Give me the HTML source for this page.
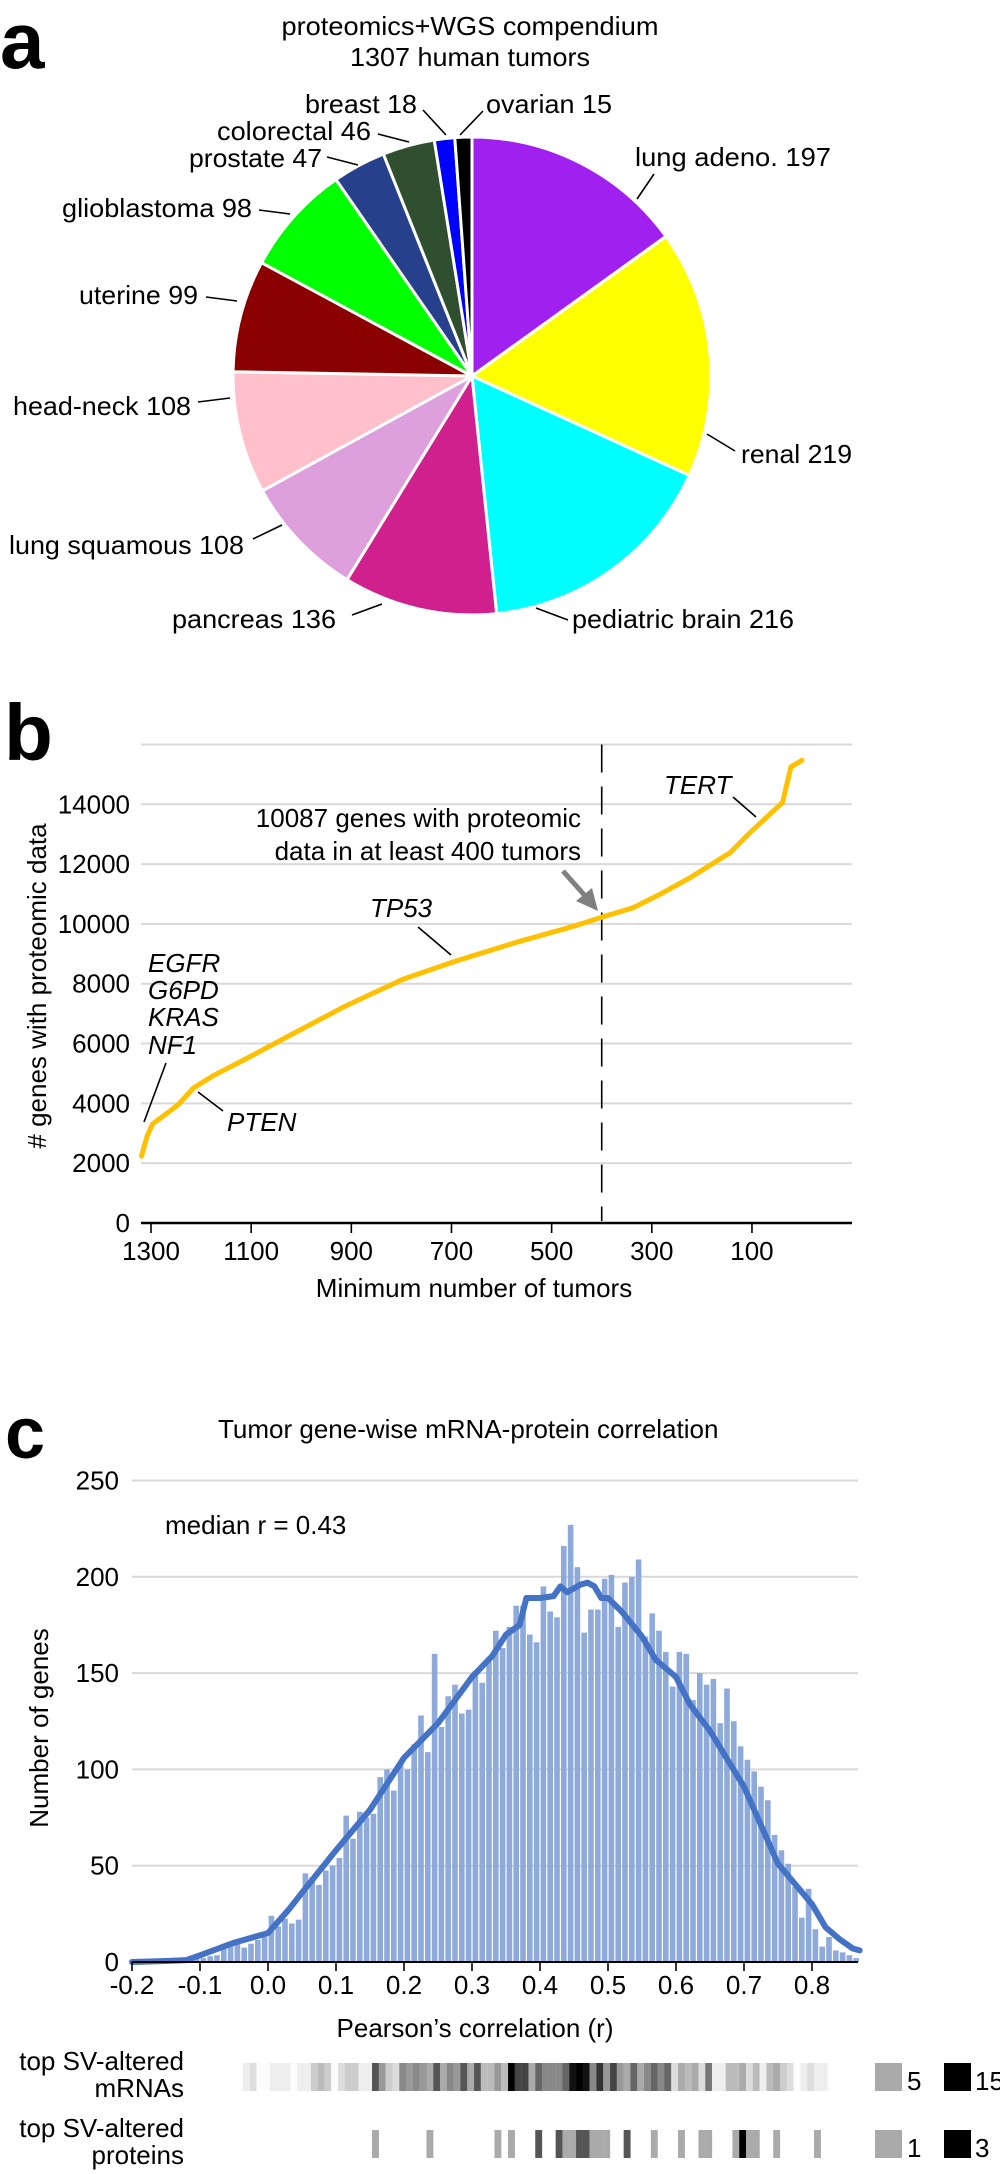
<!DOCTYPE html>
<html><head><meta charset="utf-8"><style>
html,body{margin:0;padding:0;background:#fff;}
svg{display:block;font-family:"Liberation Sans",Arial,sans-serif;}
text{fill:#000;}
</style></head><body>
<svg id="fig" width="1000" height="2174" viewBox="0 0 1000 2174" xmlns="http://www.w3.org/2000/svg">
<!-- Panel a -->
<g id="panelA">
<text x="0" y="68" font-size="80" font-weight="bold">a</text>
<text x="470" y="35" font-size="26" text-anchor="middle" textLength="377" lengthAdjust="spacingAndGlyphs">proteomics+WGS compendium</text>
<text x="470" y="66" font-size="26" text-anchor="middle" textLength="240" lengthAdjust="spacingAndGlyphs">1307 human tumors</text>
<g id="slices"></g>
<g stroke="#000" stroke-width="1.6">
<line x1="423" y1="110" x2="446" y2="135"/><line x1="483" y1="111" x2="460" y2="135"/>
<line x1="378" y1="134" x2="409" y2="142"/><line x1="327" y1="157" x2="358" y2="165"/>
<line x1="654" y1="174" x2="637" y2="199"/><line x1="259" y1="210" x2="290" y2="214"/>
<line x1="206" y1="297" x2="237" y2="301"/><line x1="198" y1="402" x2="230" y2="398"/>
<line x1="707" y1="434" x2="735" y2="451"/><line x1="253" y1="539" x2="282" y2="525"/>
<line x1="352" y1="615" x2="382" y2="604"/><line x1="536" y1="608" x2="568" y2="620"/>
</g>
<g font-size="26">
<text x="305" y="113" textLength="112" lengthAdjust="spacingAndGlyphs">breast 18</text>
<text x="486" y="113" textLength="126" lengthAdjust="spacingAndGlyphs">ovarian 15</text>
<text x="217" y="140" textLength="154" lengthAdjust="spacingAndGlyphs">colorectal 46</text>
<text x="189" y="167" textLength="133" lengthAdjust="spacingAndGlyphs">prostate 47</text>
<text x="635" y="166" textLength="196" lengthAdjust="spacingAndGlyphs">lung adeno. 197</text>
<text x="62" y="217" textLength="190" lengthAdjust="spacingAndGlyphs">glioblastoma 98</text>
<text x="79" y="304" textLength="119" lengthAdjust="spacingAndGlyphs">uterine 99</text>
<text x="13" y="415" textLength="178" lengthAdjust="spacingAndGlyphs">head-neck 108</text>
<text x="741" y="463" textLength="111" lengthAdjust="spacingAndGlyphs">renal 219</text>
<text x="9" y="554" textLength="235" lengthAdjust="spacingAndGlyphs">lung squamous 108</text>
<text x="172" y="628" textLength="164" lengthAdjust="spacingAndGlyphs">pancreas 136</text>
<text x="572" y="628" textLength="222" lengthAdjust="spacingAndGlyphs">pediatric brain 216</text>
</g>
</g>

<!-- Panel b -->
<g id="panelB">
<text x="4" y="760" font-size="80" font-weight="bold">b</text>
<g id="bGrid"></g>
<g id="bYTicks" font-size="26" text-anchor="end"></g>
<g id="bXTicks" font-size="26" text-anchor="middle"></g>
<line id="bDash" stroke="#000" stroke-width="1.6" stroke-dasharray="28,14"/>
<path id="bCurve" fill="none" stroke="#ffc000" stroke-width="5" stroke-linejoin="round" stroke-linecap="round"/>
<text transform="translate(46,986) rotate(-90)" font-size="26" text-anchor="middle"># genes with proteomic data</text>
<text x="474" y="1297" font-size="26" text-anchor="middle">Minimum number of tumors</text>
<g font-size="26" font-style="italic">
<text x="148" y="972">EGFR</text>
<text x="148" y="999">G6PD</text>
<text x="148" y="1026">KRAS</text>
<text x="148" y="1054">NF1</text>
<text x="227" y="1131">PTEN</text>
<text x="370" y="917">TP53</text>
<text x="664" y="794">TERT</text>
</g>
<g stroke="#000" stroke-width="1.6">
<line x1="166" y1="1063" x2="144" y2="1122"/>
<line x1="198" y1="1092" x2="223" y2="1111"/>
<line x1="418" y1="927" x2="451" y2="955"/>
<line x1="733" y1="797" x2="756" y2="817"/>
</g>
<text x="581" y="827" font-size="26" text-anchor="end">10087 genes with proteomic</text>
<text x="581" y="860" font-size="26" text-anchor="end">data in at least 400 tumors</text>
<g>
<line x1="563" y1="871" x2="587" y2="898" stroke="#808080" stroke-width="5"/>
<polygon points="598,911 576,901 592,888" fill="#808080"/>
</g>
</g>

<!-- Panel c -->
<g id="panelC">
<text x="5" y="1458" font-size="72" font-weight="bold">c</text>
<text x="218" y="1438" font-size="26">Tumor gene-wise mRNA-protein correlation</text>
<g id="cGrid"></g>
<g id="cYTicks" font-size="26" text-anchor="end"></g>
<g id="cBars" fill="#8eaadb"></g>
<path id="cLine" fill="none" stroke="#4472c4" stroke-width="6" stroke-linejoin="round" stroke-linecap="round"/>
<g id="cXTicks" font-size="26" text-anchor="middle"></g>
<text x="165" y="1534" font-size="26">median r = 0.43</text>
<text transform="translate(48,1728) rotate(-90)" font-size="26" text-anchor="middle">Number of genes</text>
<text x="475" y="2037" font-size="26" text-anchor="middle">Pearson’s correlation (r)</text>
<g font-size="26" text-anchor="end">
<text x="184" y="2070">top SV-altered</text>
<text x="184" y="2097">mRNAs</text>
<text x="184" y="2137">top SV-altered</text>
<text x="184" y="2164">proteins</text>
</g>
<g id="heatM"></g>
<g id="heatP"></g>
<g font-size="26">
<rect x="875" y="2063" width="27" height="28" fill="#aaaaaa"/>
<text x="907" y="2090">5</text>
<rect x="944" y="2063" width="27" height="28" fill="#000"/>
<text x="975" y="2090">15</text>
<rect x="875" y="2130" width="27" height="28" fill="#aaaaaa"/>
<text x="907" y="2157">1</text>
<rect x="944" y="2130" width="27" height="28" fill="#000"/>
<text x="975" y="2157">3</text>
</g>
</g>
</svg>
<script>
// ---- Panel a data ----
const pieNames = ["lung adeno.","renal","pediatric brain","pancreas","lung squamous","head-neck","uterine","glioblastoma","prostate","colorectal","breast","ovarian"];
const pieCounts = [197,219,216,136,108,108,99,98,47,46,18,15];
const pieColors = ["#a020f0","#ffff00","#00ffff","#d0208e","#dda0dd","#ffc0cb","#8b0000","#00ff00","#27408b","#2f4f2f","#0000ff","#000000"];

// ---- Panel b data ----
const bMinTumors = [1319,1308,1297,1268,1245,1216,1176,1107,1027,912,797,694,567,453,400,338,281,223,143,108,62,39,22,0];
const bGenes = [2234,2891,3309,3667,3966,4504,4922,5519,6236,7251,8147,8744,9401,9939,10226,10536,11014,11552,12388,12986,13702,14060,15255,15470];
const bYTickVals = [0,2000,4000,6000,8000,10000,12000,14000];
const bGridVals = [0,2000,4000,6000,8000,10000,12000,14000,16000];
const bXTickVals = [1300,1100,900,700,500,300,100];
const bXMinorTicks = [1300,1200,1100,1000,900,800,700,600,500,400,300,200,100];
const bThreshold = 400;

// ---- Panel c data ----
const histBinStart = -0.2;
const histBinWidth = 0.01;
const histCounts = [0,0,0,0,0,1,1,1,2,2,
 2,3,3.5,8,9.5,10,7.5,9.5,11.5,13,
 24,18.5,22.5,20,22,46,44,40,47.5,50,
 54,76,64,78,75,77,96,100,89,103,
 100,113,128,109,160,122,138,144,129,131,
 151,145,156,172,
 163,174,185,185,170,166,195,182,179,216,227,205,171,183,183,199,201,174,197,200,209,169,181,172,161,143,161,160,136,150,144,147,124,142,125,112,105,99,91,84,66,58,51,39,23,38,17,8,13,6,5,3.5,2];
const densR = [-0.2,-0.15,-0.12,-0.1,-0.05,0,0.03,0.05,0.1,0.15,0.2,0.25,0.3,0.33,0.35,0.37,0.38,0.4,0.42,0.43,0.44,0.46,0.47,0.48,0.49,0.5,0.52,0.55,0.57,0.6,0.62,0.65,0.7,0.75,0.8,0.82,0.84,0.86,0.87];
const densV = [0,0.5,1,3.5,10,15,27,36,58,79,106,124,148,159,170,175,189,189,190,195,192,196,197,195,189,189,182,169,157,148,134,120,91,51,30,18,12,7,6];
const cYTickVals = [0,50,100,150,200,250];
const cXTickVals = [-0.2,-0.1,0.0,0.1,0.2,0.3,0.4,0.5,0.6,0.7,0.8];
const cXTickLabels = ["-0.2","-0.1","0.0","0.1","0.2","0.3","0.4","0.5","0.6","0.7","0.8"];
const heatStart = -0.037;
const mrnaCounts = [1,2,0,0,1,1,1,0,1,1,
 3,4,3,0,2,3,3,1,1,10,
 6,3,2,7,6,7,6,5,10,5,
 7,6,10,5,10,4,4,6,4,15,
 11,11,5,9,7,7,7,9,14,15,
 14,7,12,6,11,6,5,9,5,7,
 9,7,9,2,5,4,5,2,8,1,
 1,4,4,5,2,4,1,4,5,3,
 2,0,1,2,1,1];
const proteinCounts = [0,0,0,0,0,0,0,0,0,0,
 0,0,0,0,0,0,0,0,0,1,
 0,0,0,0,0,0,0,1,0,0,
 0,0,0,0,0,0,0,1,0,1,
 0,0,0,2,0,0,2,1,1,2,
 2,1,1,1,0,0,2,0,0,0,
 1,0,0,0,1,0,0,1,1,0,
 0,0,1,3,1,1,0,0,1,0,
 0,0,0,0,1,0];

const NS = "http://www.w3.org/2000/svg";
function mk(tag, attrs, parent){
  const e = document.createElementNS(NS, tag);
  for (const k in attrs) e.setAttribute(k, attrs[k]);
  parent.appendChild(e);
  return e;
}

// ---- Pie ----
(function(){
  const cx = 472, cy = 376, R = 239;
  const total = pieCounts.reduce((a,b)=>a+b,0);
  const g = document.getElementById("slices");
  let a0 = -Math.PI/2;
  pieCounts.forEach((c,i)=>{
    const a1 = a0 + c/total*2*Math.PI;
    const x0 = cx + R*Math.cos(a0), y0 = cy + R*Math.sin(a0);
    const x1 = cx + R*Math.cos(a1), y1 = cy + R*Math.sin(a1);
    const large = (a1-a0) > Math.PI ? 1 : 0;
    const p = mk("path", {d:`M${cx},${cy} L${x0},${y0} A${R},${R} 0 ${large} 1 ${x1},${y1} Z`, fill:pieColors[i], stroke:"#fff", "stroke-width":"3", "stroke-linejoin":"round"}, g);
    
    
    a0 = a1;
  });
})();

// ---- Panel b ----
(function(){
  const xB = n => 151 + (1300 - n) * 0.5008;
  const yB = v => 1223 - v * (418.7/14000);
  const grid = document.getElementById("bGrid");
  bGridVals.forEach(v=>{
    if (v === 0) return;
    const l = mk("line", {x1:141, x2:852, y1:yB(v), y2:yB(v), stroke:"#d9d9d9", "stroke-width":"2"}, grid);
    
    
  });
  const yt = document.getElementById("bYTicks");
  bYTickVals.forEach(v=>{
    const t = mk("text", {x:130, y:yB(v)+9}, yt);
    t.textContent = v;
    
    
  });
  const xt = document.getElementById("bXTicks");
  const ax = mk("line", {x1:141, x2:852, y1:1223, y2:1223, stroke:"#000", "stroke-width":"2.5"}, xt);
  
  
  bXTickVals.forEach(n=>{
    const tk = mk("line", {x1:xB(n), x2:xB(n), y1:1223, y2:1233, stroke:"#000", "stroke-width":"1.6"}, xt);
    
    
    const t = mk("text", {x:xB(n), y:1260}, xt);
    t.textContent = n;
    
    
  });
  const d = document.getElementById("bDash");
  d.setAttribute("x1", xB(bThreshold)); d.setAttribute("x2", xB(bThreshold));
  d.setAttribute("y1", yB(16000)); d.setAttribute("y2", 1221);
  let path = "";
  bMinTumors.forEach((n,i)=>{ path += (i?"L":"M") + xB(n).toFixed(1) + "," + yB(bGenes[i]).toFixed(1); });
  document.getElementById("bCurve").setAttribute("d", path);
})();

// ---- Panel c ----
(function(){
  const xC = r => 132 + (r + 0.2) * 680;
  const yC = v => 1962 - v * 1.926;
  const grid = document.getElementById("cGrid");
  cYTickVals.forEach(v=>{
    if (v === 0) return;
    const l = mk("line", {x1:132, x2:858, y1:yC(v), y2:yC(v), stroke:"#d9d9d9", "stroke-width":"2"}, grid);
    
    
  });
  const yt = document.getElementById("cYTicks");
  cYTickVals.forEach(v=>{
    const t = mk("text", {x:119, y:yC(v)+9}, yt);
    t.textContent = v;
    
    
  });
  const bars = document.getElementById("cBars");
  histCounts.forEach((c,i)=>{
    const r = histBinStart + i*histBinWidth;
    const x = xC(r);
    const w = histBinWidth*680 - 1.2;
    const h = c * 1.926;
    const b = mk("rect", {x:(x+0.6).toFixed(2), y:(1962-h).toFixed(2), width:w.toFixed(2), height:h.toFixed(2)}, bars);
    
    
  });
  let p = "";
  densR.forEach((r,i)=>{ p += (i?"L":"M") + xC(r).toFixed(1) + "," + yC(densV[i]).toFixed(1); });
  document.getElementById("cLine").setAttribute("d", p);
  const xt = document.getElementById("cXTicks");
  const ax = mk("line", {x1:132, x2:858, y1:1962, y2:1962, stroke:"#000", "stroke-width":"2"}, xt);
  
  
  cXTickVals.forEach((r,i)=>{
    const tk = mk("line", {x1:xC(r), x2:xC(r), y1:1962, y2:1971, stroke:"#000", "stroke-width":"1.6"}, xt);
    
    
    const t = mk("text", {x:xC(r), y:1994}, xt);
    t.textContent = cXTickLabels[i];
    
    
  });
  const hm = document.getElementById("heatM");
  mrnaCounts.forEach((c,i)=>{
    const x = xC(heatStart + i*0.01);
    const lv = Math.max(0, Math.round(255*(1 - c/15)));
    const fill = c === 0 ? "#fcfcfc" : `rgb(${lv},${lv},${lv})`;
    const r = mk("rect", {x:x.toFixed(2), y:2063, width:6.9, height:28, fill:fill}, hm);
    
    
  });
  const hp = document.getElementById("heatP");
  proteinCounts.forEach((c,i)=>{
    if (c === 0) return;
    const x = xC(heatStart + i*0.01);
    const lv = Math.max(0, Math.round(255 - c*85));
    const r = mk("rect", {x:x.toFixed(2), y:2130, width:6.9, height:28, fill:`rgb(${lv},${lv},${lv})`}, hp);
    
    
  });
})();
</script>
</body></html>
